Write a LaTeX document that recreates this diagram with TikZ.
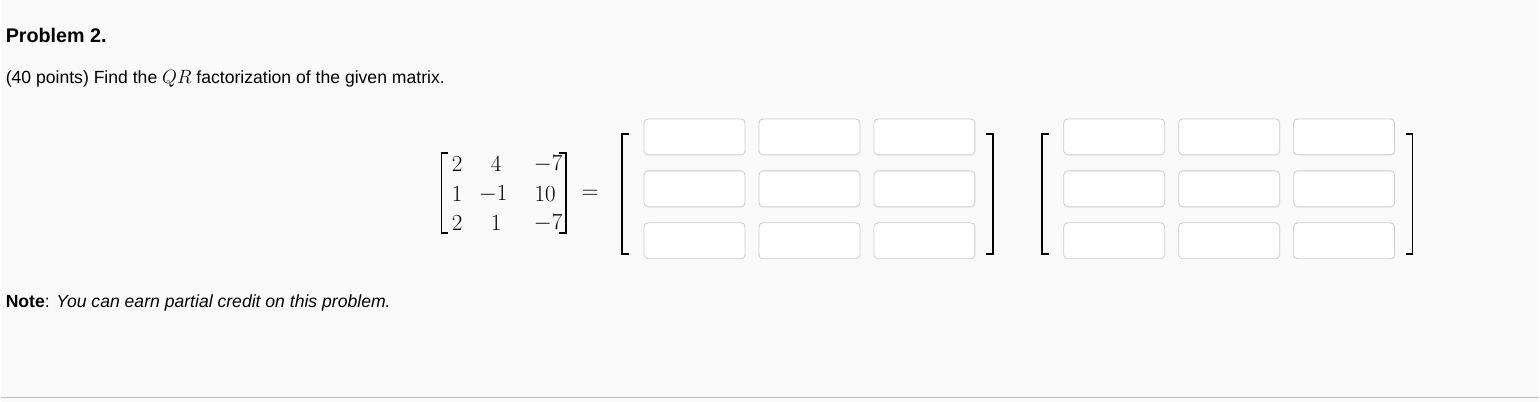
\documentclass[tikz,border=0pt]{standalone}
\usepackage{fontspec}
\setmainfont{Liberation Sans}
\begin{document}
\begin{tikzpicture}[x=0.75pt,y=-0.75pt,
  ansbox/.style={draw=black!20,fill=white,rounded corners=3pt,line width=0.6pt},
  brk/.style={line width=1.1pt,black},
  ent/.style={anchor=center,inner sep=0pt,font=\fontsize{16}{18}\selectfont},
  txt/.style={anchor=base west,inner sep=0pt,font=\fontsize{13.2}{15}\selectfont}]
\fill[black!2] (0,0) rectangle (1540,402);
\draw[black!25,line width=0.8pt] (0,398) -- (1540,398);
\node[txt,font=\fontsize{14.8}{17}\selectfont\bfseries] (title) at (5,43) {Problem 2.};
\node[txt] (q) at (5,84) {(40 points) Find the {\fontsize{15.5}{17}\selectfont$QR$} factorization of the given matrix.};
\node[txt] (note) at (5,308) {\textbf{Note}: \textit{You can earn partial credit on this problem.}};
% given matrix
\draw[brk] (448,153) -- (441,153) -- (441,233) -- (448,233);
\draw[brk] (559,153) -- (566,153) -- (566,233) -- (559,233);
\node[ent] (a11) at (457,164) {$2$};
\node[ent] (a12) at (496,164) {$4$};
\node[ent] (a13) at (548,164) {$-7$};
\node[ent] (a21) at (457,194) {$1$};
\node[ent] (a22) at (493,194) {$-1$};
\node[ent] (a23) at (545,194) {$10$};
\node[ent] (a31) at (457,223) {$2$};
\node[ent] (a32) at (496,223) {$1$};
\node[ent] (a33) at (548,223) {$-7$};
\node[ent] (eq) at (590,195) {$=$};
% Q brackets
\draw[brk] (629,134) -- (622,134) -- (622,254) -- (629,254);
\draw[brk] (986,134) -- (993,134) -- (993,254) -- (986,254);
% R brackets
\draw[brk] (1049,134) -- (1042,134) -- (1042,254) -- (1049,254);
\draw[brk] (1406,134) -- (1413,134) -- (1413,254) -- (1406,254);
\foreach \x in {644,759,874,1064,1179,1294}{
  \foreach \y in {119,171,223}{
    \draw[ansbox] (\x,\y) rectangle ++(101,36);
  }
}
\end{tikzpicture}
\end{document}
